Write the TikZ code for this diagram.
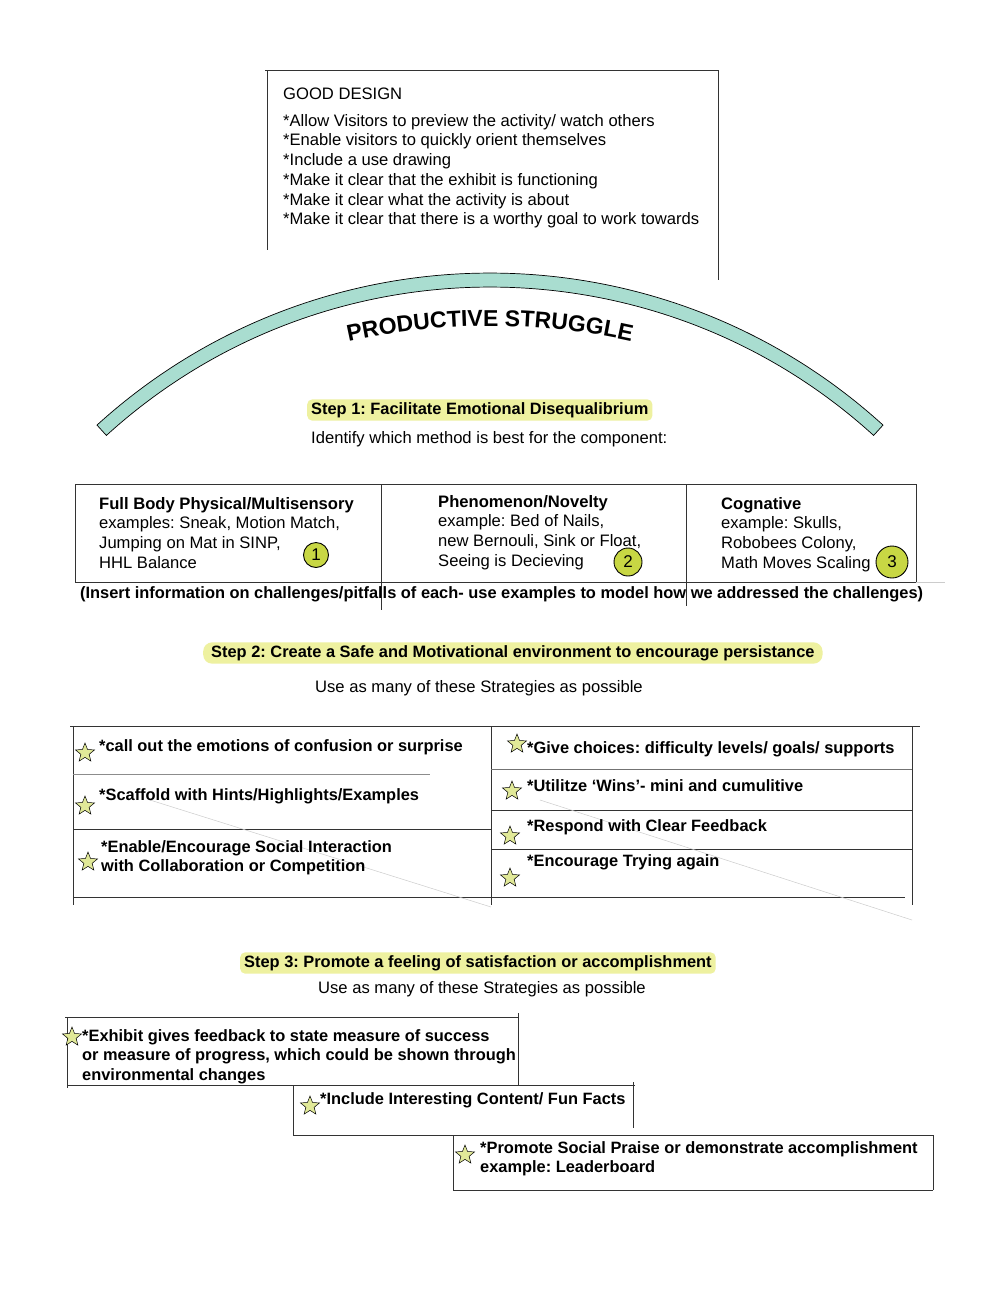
\documentclass[tikz,border=0pt]{standalone}
\usepackage{fontspec}
\setmainfont{Liberation Sans}
\usetikzlibrary{shapes.geometric,decorations.text}

\definecolor{bandteal}{HTML}{A9DDD0}
\definecolor{hiyellow}{HTML}{EEF1A0}
\definecolor{limedot}{HTML}{C8D744}

\begin{document}
\frenchspacing
\begin{tikzpicture}[x=1pt, y=-1pt,
    txt/.style={inner sep=0pt, font=\fontsize{16.6}{19.7}\selectfont},
    btxt/.style={inner sep=0pt, font=\fontsize{16.4}{19.7}\selectfont\bfseries},
    rule/.style={line width=0.9pt, black!80},
    faint/.style={line width=0.5pt, black!20},
    hilite/.style={fill=hiyellow, inner xsep=4pt, inner ysep=3pt, rounded corners=5pt},
    goldstar/.style={star, star points=5, star point ratio=2.3, draw=black, fill=limedot!55, line width=0.5pt, minimum size=20pt, inner sep=0pt},
    numdot/.style={circle, draw=black, fill=limedot, line width=0.9pt, inner sep=0pt, font=\fontsize{17}{17}\selectfont}]

    % FULL DEL DIBUIX
    \fill[white] (0,0) rectangle (1000,1294);
    \useasboundingbox (0,0) rectangle (1000,1294);

    % GOOD DESIGN
    \draw[rule] (265,70) -- (718,70);
    \draw[rule] (267,70) -- (267,250);
    \draw[rule] (718,70) -- (718,280);
    \node[txt, anchor=west] (gdtitle) at (283,94) {GOOD DESIGN};
    \node[txt, anchor=north west, align=left] (gdlist) at (283,114) {*Allow Visitors to preview the activity/ watch others\\
        *Enable visitors to quickly orient themselves\\
        *Include a use drawing\\
        *Make it clear that the exhibit is functioning\\
        *Make it clear what the activity is about\\
        *Make it clear that there is a worthy goal to work towards};

    % ARC PRODUCTIVE STRUGGLE
    \coordinate (arcmid) at (490,857);
    \coordinate (textmid) at (490,976);
    \draw[fill=bandteal, line width=0.7pt] ([shift={(-132.3:584)}]arcmid) arc[start angle=-132.3, end angle=-47.7, radius=584]
        -- ++(-47.7:-14) arc[start angle=-47.7, end angle=-132.3, radius=570] -- cycle;
    \path[decorate, decoration={text along path, text align=center,
        text={|\fontsize{23}{23}\selectfont\bfseries|PRODUCTIVE STRUGGLE}}]
        ([shift={(-105:650)}]textmid) arc[start angle=-105, end angle=-75, radius=650];

    % STEP 1
    \node[btxt, hilite, anchor=west] (step1) at (307,410) {Step 1: Facilitate Emotional Disequalibrium};
    \node[txt, anchor=west] (step1sub) at (311,439) {Identify which method is best for the component:};

    % METHODS
    \draw[rule] (75,484) -- (916,484);
    \draw[rule] (75,582) -- (916,582);
    \draw[faint] (916,582) -- (945,582);
    \draw[rule] (75,484) -- (75,582);
    \draw[rule] (381,484) -- (381,610);
    \draw[rule] (686,484) -- (686,606);
    \draw[rule] (916,484) -- (916,582);
    \node[txt, anchor=north west, align=left] (physical) at (99,497) {\textbf{Full Body Physical/Multisensory}\\
        examples: Sneak, Motion Match,\\Jumping on Mat in SINP,\\HHL Balance};
    \node[txt, anchor=north west, align=left] (novelty) at (438,495) {\textbf{Phenomenon/Novelty}\\
        example: Bed of Nails,\\new Bernouli, Sink or Float,\\Seeing is Decieving};
    \node[txt, anchor=north west, align=left] (cognitive) at (721,497) {\textbf{Cognative}\\
        example: Skulls,\\Robobees Colony,\\Math Moves Scaling};
    \node[numdot, minimum size=25pt] (dot1) at (316,555) {1};
    \node[numdot, minimum size=28pt] (dot2) at (628,562) {2};
    \node[numdot, minimum size=32pt] (dot3) at (892,562) {3};
    \node[btxt, anchor=west] (challenges) at (80,594) {(Insert information on challenges/pitfalls of each- use examples to model how we addressed the challenges)};

    % STEP 2
    \node[btxt, hilite, rounded corners=9pt, inner xsep=8pt, anchor=west] (step2) at (203,653) {Step 2: Create a Safe and Motivational environment to encourage persistance};
    \node[txt, anchor=west] (step2sub) at (315,688) {Use as many of these Strategies as possible};

    \draw[rule] (70,726) -- (920,726);
    \draw[rule] (73,726) -- (73,905);
    \draw[rule] (491,726) -- (491,905);
    \draw[rule] (912,726) -- (912,905);
    \draw[rule, black!45] (73,774) -- (430,774);
    \draw[rule] (73,829) -- (491,829);
    \draw[rule, black!55] (491,769) -- (912,769);
    \draw[rule] (491,810) -- (912,810);
    \draw[rule] (491,849) -- (912,849);
    \draw[rule] (73,897) -- (905,897);
    \draw[faint] (150,800) -- (491,907);
    \draw[faint] (540,800) -- (912,920);

    \node[btxt, anchor=west] (confusion) at (99,747) {*call out the emotions of confusion or surprise};
    \node[btxt, anchor=west] (scaffold) at (99,796) {*Scaffold with Hints/Highlights/Examples};
    \node[btxt, anchor=north west, align=left] (social) at (101,840) {*Enable/Encourage Social Interaction\\with Collaboration or Competition};
    \node[btxt, anchor=west] (choices) at (527,749) {*Give choices: difficulty levels/ goals/ supports};
    \node[btxt, anchor=west] (wins) at (527,786) {*Utilitze ‘Wins’- mini and cumulitive};
    \node[btxt, anchor=west] (clearfb) at (527,827) {*Respond with Clear Feedback};
    \node[btxt, anchor=west] (tryagain) at (527,862) {*Encourage Trying again};
    \node[goldstar] (starA) at (85,753) {};
    \node[goldstar] (starB) at (85,806) {};
    \node[goldstar] (starC) at (88,862) {};
    \node[goldstar] (starD) at (517,744) {};
    \node[goldstar] (starE) at (512,791) {};
    \node[goldstar] (starF) at (510,836) {};
    \node[goldstar] (starG) at (510,878) {};

    % STEP 3
    \node[btxt, hilite, anchor=west] (step3) at (240,963) {Step 3: Promote a feeling of satisfaction or accomplishment};
    \node[txt, anchor=west] (step3sub) at (318,989) {Use as many of these Strategies as possible};

    \draw[rule] (65,1017) -- (518,1017);
    \draw[rule] (518,1013) -- (518,1085);
    \draw[rule] (67,1017) -- (67,1088);
    \draw[rule] (67,1085) -- (635,1085);
    \draw[rule] (293,1085) -- (293,1135);
    \draw[rule] (633,1082) -- (633,1128);
    \draw[rule] (293,1135) -- (933,1135);
    \draw[rule] (453,1135) -- (453,1190);
    \draw[rule] (933,1135) -- (933,1190);
    \draw[rule] (453,1190) -- (933,1190);

    \node[btxt, anchor=north west, align=left] (measure) at (82,1029) {*Exhibit gives feedback to state measure of success\\
        or measure of progress, which could be shown through\\environmental changes};
    \node[btxt, anchor=west] (funfacts) at (320,1100) {*Include Interesting Content/ Fun Facts};
    \node[btxt, anchor=north west, align=left] (praise) at (480,1141) {*Promote Social Praise or demonstrate accomplishment\\example: Leaderboard};
    \node[goldstar] (starH) at (72,1037) {};
    \node[goldstar] (starI) at (310,1106) {};
    \node[goldstar] (starJ) at (465,1155) {};

\end{tikzpicture}
\end{document}
